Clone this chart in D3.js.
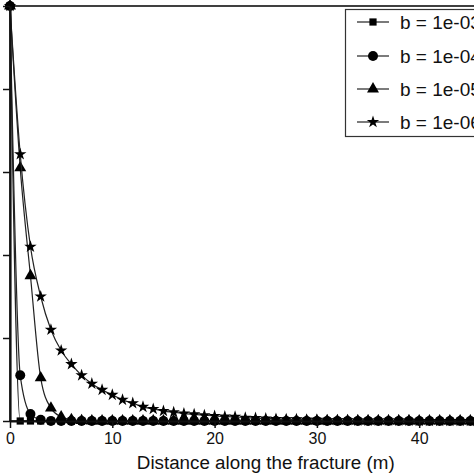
<!DOCTYPE html>
<html>
<head>
<meta charset="utf-8">
<script src="https://cdn.jsdelivr.net/npm/d3@7"></script>
<style>
  body { margin: 0; background: #fff; }
  svg { display: block; font-family: "Liberation Sans", Arial, sans-serif; }
</style>
</head>
<body>
<div id="chart"></div>
<script>
// distance along the fracture (m), one point per metre
var distance = [0, 1, 2, 3, 4, 5, 6, 7, 8, 9, 10, 11, 12, 13, 14, 15, 16, 17, 18, 19, 20,
  21, 22, 23, 24, 25, 26, 27, 28, 29, 30, 31, 32, 33, 34, 35, 36, 37, 38, 39, 40,
  41, 42, 43, 44, 45, 46, 47, 48, 49, 50];

// normalised values
var b1e03 = [1, 0, 0, 0, 0, 0, 0, 0, 0, 0, 0, 0, 0, 0, 0, 0, 0, 0, 0, 0, 0,
  0, 0, 0, 0, 0, 0, 0, 0, 0, 0, 0, 0, 0, 0, 0, 0, 0, 0, 0, 0,
  0, 0, 0, 0, 0, 0, 0, 0, 0, 0];
var b1e04 = [1, 0.11, 0.017, 0.003, 0, 0, 0, 0, 0, 0, 0, 0, 0, 0, 0, 0, 0, 0, 0, 0, 0,
  0, 0, 0, 0, 0, 0, 0, 0, 0, 0, 0, 0, 0, 0, 0, 0, 0, 0, 0, 0,
  0, 0, 0, 0, 0, 0, 0, 0, 0, 0];
var b1e05 = [1, 0.61, 0.35, 0.104, 0.031, 0.01, 0.003, 0.001, 0, 0, 0, 0, 0, 0, 0, 0, 0, 0, 0, 0, 0,
  0, 0, 0, 0, 0, 0, 0, 0, 0, 0, 0, 0, 0, 0, 0, 0, 0, 0, 0, 0,
  0, 0, 0, 0, 0, 0, 0, 0, 0, 0];
var b1e06 = [1, 0.643, 0.42, 0.30, 0.22, 0.17, 0.137, 0.11, 0.09, 0.075, 0.063, 0.051, 0.043, 0.034, 0.029, 0.024, 0.021, 0.018, 0.016, 0.014, 0.012,
  0.011, 0.01, 0.008, 0.007, 0.006, 0.005, 0.004, 0.004, 0.003, 0.003, 0.002, 0.002, 0.002, 0.001, 0.001, 0.001, 0.001, 0.001, 0.001, 0,
  0, 0, 0, 0, 0, 0, 0, 0, 0, 0];

var seriesNames = ["b = 1e-03", "b = 1e-04", "b = 1e-05", "b = 1e-06"];
var seriesValues = [b1e03, b1e04, b1e05, b1e06];

// tick labels of the y axis fall outside the cropped picture, only the marks show
var xTicks = [0, 10, 20, 30, 40];
var yTicks = [0, 0.2, 0.4, 0.6, 0.8, 1.0];


var width = 474;
var height = 474;

// the plot is cropped on the left and right, like the picture
var plotLeft = 10;
var plotRight = 521.5;
var plotTop = 6;
var plotBottom = 421;

var svg = d3.select("#chart")
  .append("svg")
  .attr("width", width)
  .attr("height", height);

svg.append("rect")
  .attr("width", width)
  .attr("height", height)
  .attr("fill", "#fff");

var x = d3.scaleLinear().domain([0, 50]).range([plotLeft, plotRight]);
var y = d3.scaleLinear().domain([0, 1]).range([plotBottom, plotTop]);

// marker shape and size for each series
var symbols = [
  d3.symbol().type(d3.symbolSquare).size(52),
  d3.symbol().type(d3.symbolCircle).size(78),
  d3.symbol().type(d3.symbolTriangle).size(62),
  d3.symbol().type(d3.symbolStar).size(48)
];

// frame round the plot
svg.append("rect")
  .attr("x", plotLeft)
  .attr("y", plotTop)
  .attr("width", plotRight - plotLeft)
  .attr("height", plotBottom - plotTop)
  .attr("fill", "none")
  .attr("stroke", "#111")
  .attr("stroke-width", 1.6);

// curves and markers
var line = d3.line()
  .x(function(d, i) { return x(distance[i]); })
  .y(function(d) { return y(d); })
  .curve(d3.curveMonotoneX);

seriesValues.forEach(function(values, s) {
  var g = svg.append("g");

  g.append("path")
    .attr("d", line(values))
    .attr("fill", "none")
    .attr("stroke", "#222")
    .attr("stroke-width", 1.2);

  g.selectAll("path.marker")
    .data(values)
    .enter()
    .append("path")
    .attr("class", "marker")
    .attr("d", symbols[s])
    .attr("transform", function(d, i) {
      return "translate(" + x(distance[i]) + "," + y(d) + ")";
    })
    .attr("fill", "#000");
});

// axes
var xAxis = svg.append("g")
  .attr("transform", "translate(0," + plotBottom + ")")
  .call(d3.axisBottom(x).tickValues(xTicks).tickSize(7).tickPadding(5).tickSizeOuter(0));

var yAxis = svg.append("g")
  .attr("transform", "translate(" + plotLeft + ",0)")
  .call(d3.axisLeft(y).tickValues(yTicks).tickSize(7).tickSizeOuter(0).tickFormat(""));

[xAxis, yAxis].forEach(function(ax) {
  ax.select(".domain").attr("stroke", "#111").attr("stroke-width", 2.2);
  ax.selectAll(".tick line").attr("stroke", "#111").attr("stroke-width", 1.5);
  ax.selectAll(".tick text")
    .attr("fill", "#111")
    .style("font-size", "16px")
    .style("font-family", "'Liberation Sans', Arial, sans-serif");
});

svg.append("text")
  .attr("x", x(25))
  .attr("y", 469)
  .attr("text-anchor", "middle")
  .attr("fill", "#111")
  .style("font-size", "18.8px")
  .text("Distance along the fracture (m)");

// legend box, cut off at the right edge
var legend = svg.append("g");

legend.append("rect")
  .attr("x", 345.5)
  .attr("y", 9.5)
  .attr("width", 180)
  .attr("height", 127)
  .attr("fill", "#fff")
  .attr("stroke", "#333")
  .attr("stroke-width", 1.2);

var legendRows = [22, 56, 89, 122];

seriesNames.forEach(function(name, s) {
  var ly = legendRows[s];

  legend.append("line")
    .attr("x1", 357)
    .attr("x2", 389)
    .attr("y1", ly)
    .attr("y2", ly)
    .attr("stroke", "#222")
    .attr("stroke-width", 1.2);

  legend.append("path")
    .attr("d", symbols[s])
    .attr("transform", "translate(373," + ly + ")")
    .attr("fill", "#000");

  legend.append("text")
    .attr("x", 400)
    .attr("y", ly + 7)
    .attr("fill", "#111")
    .style("font-size", "19px")
    .text(name);
});
</script>
</body>
</html>
